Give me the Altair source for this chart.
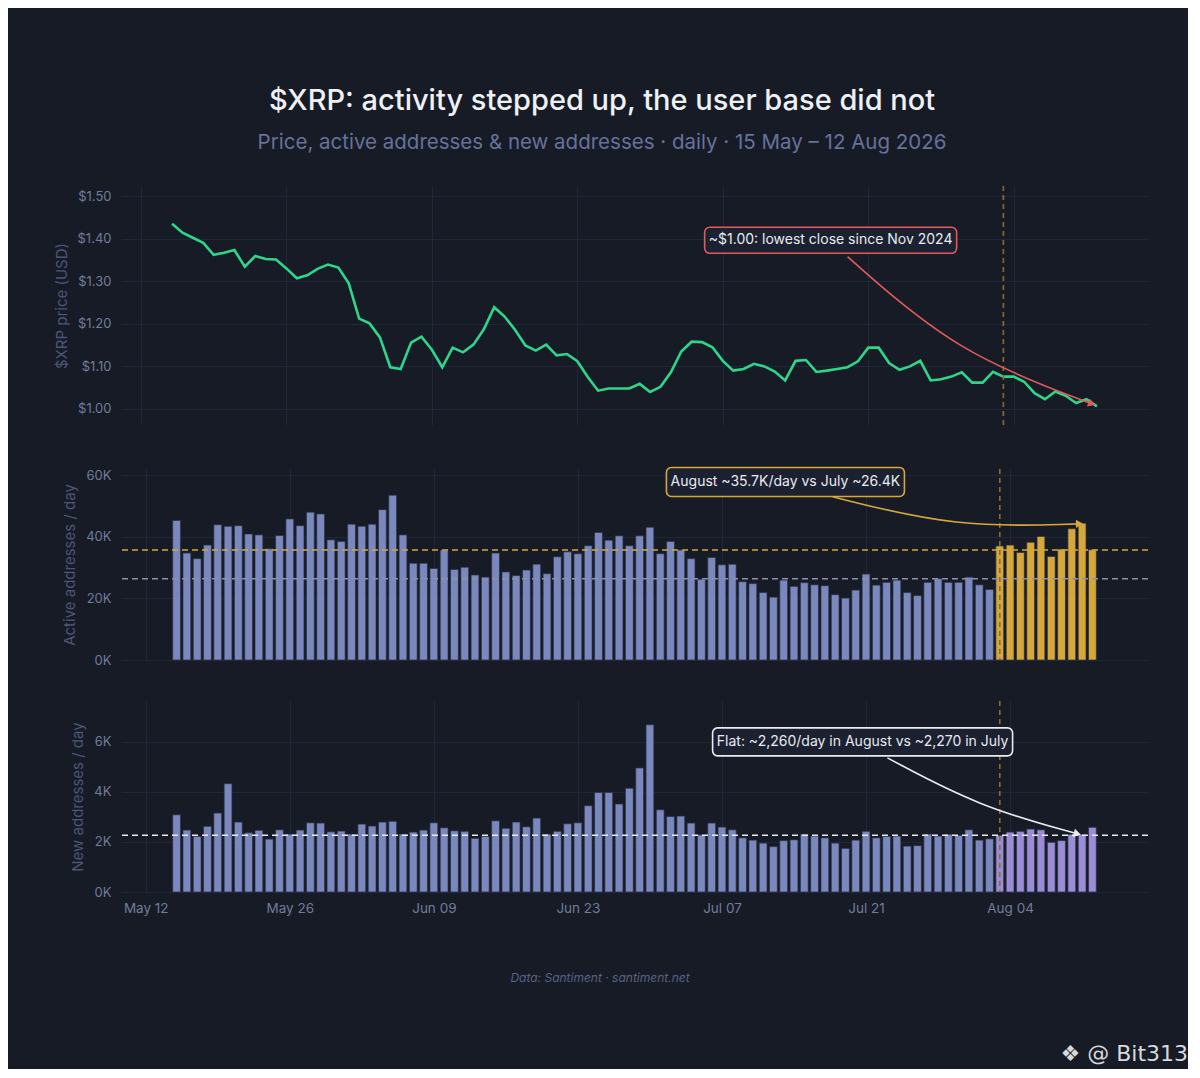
import altair as alt
import pandas as pd

# ---------------- data ----------------
START = "2026-05-15"
END = "2026-08-12"
HIGHLIGHT_FROM = "2026-08-03"

price = [1.435, 1.414, 1.402, 1.390, 1.362, 1.367, 1.373, 1.334, 1.359, 1.352,
         1.351, 1.330, 1.307, 1.314, 1.329, 1.339, 1.332, 1.295, 1.212, 1.201,
         1.168, 1.098, 1.094, 1.156, 1.170, 1.139, 1.098, 1.144, 1.133, 1.151,
         1.187, 1.239, 1.217, 1.186, 1.149, 1.137, 1.151, 1.126, 1.129, 1.112,
         1.075, 1.043, 1.048, 1.048, 1.048, 1.059, 1.040, 1.052, 1.086, 1.135,
         1.158, 1.157, 1.145, 1.113, 1.090, 1.094, 1.106, 1.100, 1.088, 1.067,
         1.113, 1.115, 1.087, 1.090, 1.094, 1.098, 1.112, 1.144, 1.144, 1.108,
         1.092, 1.100, 1.113, 1.067, 1.070, 1.076, 1.086, 1.062, 1.062, 1.087,
         1.076, 1.076, 1.064, 1.037, 1.023, 1.041, 1.031, 1.014, 1.023, 1.006]

active_k = [45.3, 34.7, 32.9, 37.3, 43.9, 43.4, 43.6, 40.9, 40.6, 36.1,
            40.4, 45.8, 43.6, 48.0, 47.4, 39.0, 38.5, 44.1, 43.4, 44.1,
            48.8, 53.5, 40.6, 31.4, 31.4, 29.7, 35.7, 29.4, 30.1, 27.6,
            26.9, 34.7, 28.6, 27.4, 29.2, 31.1, 28.0, 33.5, 35.1, 34.5,
            37.1, 41.4, 38.9, 40.3, 37.1, 40.3, 43.1, 34.5, 38.5, 35.7,
            32.9, 26.2, 33.3, 30.9, 31.1, 25.4, 24.8, 21.9, 20.4, 25.9,
            23.9, 25.1, 24.4, 24.1, 21.2, 20.1, 22.7, 27.9, 24.3, 25.2,
            25.9, 21.9, 20.9, 25.2, 26.4, 25.2, 25.2, 26.9, 24.4, 22.9,
            37.0, 37.3, 34.9, 38.2, 40.1, 33.6, 36.0, 42.6, 44.4, 35.8]

new_k = [3.08, 2.47, 2.22, 2.62, 3.15, 4.32, 2.79, 2.36, 2.46, 2.11,
         2.48, 2.31, 2.47, 2.76, 2.75, 2.40, 2.43, 2.31, 2.71, 2.63,
         2.79, 2.82, 2.31, 2.39, 2.47, 2.76, 2.56, 2.44, 2.42, 2.14,
         2.22, 2.84, 2.54, 2.79, 2.60, 2.95, 2.31, 2.42, 2.72, 2.76,
         3.44, 3.97, 3.97, 3.51, 4.14, 4.95, 6.67, 3.28, 3.01, 3.03,
         2.75, 2.28, 2.75, 2.59, 2.48, 2.16, 2.07, 1.95, 1.81, 2.05,
         2.08, 2.31, 2.23, 2.16, 1.95, 1.74, 2.07, 2.42, 2.16, 2.22,
         2.23, 1.83, 1.85, 2.31, 2.23, 2.30, 2.26, 2.48, 2.07, 2.12,
         2.26, 2.39, 2.42, 2.51, 2.48, 1.98, 2.05, 2.30, 2.30, 2.58]

ACTIVE_AUG_AVG = 35.7
ACTIVE_JUL_AVG = 26.4
NEW_AVG = 2.265

tick_days = [(5, 12), (5, 26), (6, 9), (6, 23), (7, 7), (7, 21), (8, 4)]

# annotation texts and anchors (data coordinates)
price_note = "~$1.00: lowest close since Nov 2024"
price_note_at = ("2026-07-17T09:00:00", 1.396)
price_arrow_dates = ["2026-07-19T00:00:00", "2026-07-29T10:00:00", "2026-08-11T12:00:00"]
price_arrow_vals = [1.3575, 1.1324, 1.0124]

active_note = "August ~35.7K/day vs July ~26.4K"
active_note_at = ("2026-07-13T04:00:00", 57.8)
active_arrow_dates = ["2026-07-17T18:00:00", "2026-07-29T19:00:00", "2026-08-10T18:00:00"]
active_arrow_vals = [53.0, 42.9, 44.2]

new_note = "Flat: ~2,260/day in August vs ~2,270 in July"
new_note_at = ("2026-07-20T16:00:00", 5.99)
new_arrow_dates = ["2026-07-23T02:00:00", "2026-08-01T00:00:00", "2026-08-10T13:00:00"]
new_arrow_vals = [5.35, 3.40, 2.32]

# ---------------- style ----------------
BG = "#161b26"
GRID = "#21273a"
BLUE = "#7b88bd"
GOLD = "#d6a83b"
PURPLE = "#9a8dd6"
GREEN = "#2fd68a"
RED = "#e05a5a"
WHITE = "#e9ebf0"
GRAYREF = "#8b91aa"
VLINE = "#8a6d2f"
BOXFILL = "#1b2130"
LABEL = "#727b9b"
AXTITLE = "#4d5676"
FONT = "Inter"

W = 1027
dates = pd.date_range(START, END, freq="D")
df = pd.DataFrame({
    "date": dates.strftime("%Y-%m-%dT00:00:00"),
    "price": price,
    "active": active_k,
    "new": new_k,
})
df["grp"] = ["aug" if d >= pd.Timestamp(HIGHLIGHT_FROM) else "base" for d in dates]

xscale = alt.Scale(domain=[alt.DateTime(year=2026, month=5, date=10, hours=2),
                           alt.DateTime(year=2026, month=8, date=16, hours=22)])
tick_vals = [alt.DateTime(year=2026, month=m, date=d) for m, d in tick_days]


def x_enc(show):
    if show:
        ax = alt.Axis(values=tick_vals, format="%b %d", grid=True, gridColor=GRID,
                      labelColor=LABEL, labelFontSize=13.5, labelFont=FONT,
                      labelPadding=9, ticks=False, domain=False, title=None)
    else:
        ax = alt.Axis(values=tick_vals, labels=False, grid=True, gridColor=GRID,
                      ticks=False, domain=False, title=None)
    return alt.X("date:T", scale=xscale, axis=ax)


def y_axis(values, title, fmt=None, expr=None):
    kw = dict(values=values, title=title, grid=True, gridColor=GRID, ticks=False,
              domain=False, labelColor=LABEL, labelFontSize=13, labelFont=FONT,
              labelPadding=10, titleColor=AXTITLE, titleFontSize=15,
              titleFont=FONT, titleFontWeight="normal", titlePadding=8)
    if fmt:
        kw["format"] = fmt
    if expr:
        kw["labelExpr"] = expr
    return alt.Axis(**kw)


vline_df = pd.DataFrame({"date": [HIGHLIGHT_FROM + "T00:00:00"]})


def vline():
    return alt.Chart(vline_df).mark_rule(color=VLINE, strokeDash=[5, 4],
                                         strokeWidth=1.6).encode(x="date:T")


def note(field, at, text, color, w, h, arrow_dates, arrow_vals, head_angle):
    box_df = pd.DataFrame({"date": [at[0]], field: [at[1]], "label": [text]})
    arr_df = pd.DataFrame({"date": arrow_dates, field: arrow_vals,
                           "i": list(range(len(arrow_dates)))})
    head_df = arr_df.tail(1)
    curve = alt.Chart(arr_df).mark_line(interpolate="basis", color=color,
                                        strokeWidth=1.6).encode(
        x="date:T", y=f"{field}:Q", order="i:O")
    head = alt.Chart(head_df).mark_point(shape="triangle-right", filled=True,
                                         color=color, size=70, opacity=1,
                                         angle=head_angle).encode(
        x="date:T", y=f"{field}:Q")
    box = alt.Chart(box_df).mark_rect(width=w, height=h, cornerRadius=5,
                                      fill=BOXFILL, stroke=color,
                                      strokeWidth=1.6).encode(
        x="date:T", y=f"{field}:Q")
    txt = alt.Chart(box_df).mark_text(font=FONT, fontSize=14, color=WHITE,
                                      align="center", baseline="middle").encode(
        x="date:T", y=f"{field}:Q", text="label:N")
    return [curve, head, box, txt]


# ---------------- panel 1: price ----------------
p_line = alt.Chart(df).mark_line(color=GREEN, strokeWidth=2.6).encode(
    x=x_enc(False),
    y=alt.Y("price:Q", scale=alt.Scale(domain=[0.9624, 1.5235], nice=False, zero=False),
            axis=y_axis([1.0, 1.1, 1.2, 1.3, 1.4, 1.5], "$XRP price (USD)", fmt="$.2f")),
)
panel1 = alt.layer(
    p_line, vline(),
    *note("price", price_note_at, price_note, RED, 252, 26,
          price_arrow_dates, price_arrow_vals, 20),
).properties(width=W, height=239)

# ---------------- panel 2: active ----------------
a_bars = alt.Chart(df).mark_bar(size=7.8, stroke="#2a2f42", strokeWidth=0.7).encode(
    x=x_enc(False),
    y=alt.Y("active:Q", scale=alt.Scale(domain=[0, 62], nice=False),
            axis=y_axis([0, 20, 40, 60], "Active addresses / day", expr="datum.value + 'K'")),
    color=alt.Color("grp:N", scale=alt.Scale(domain=["base", "aug"], range=[BLUE, GOLD]),
                    legend=None),
)
ref_a = pd.DataFrame({"active": [ACTIVE_AUG_AVG, ACTIVE_JUL_AVG], "kind": ["aug", "jul"]})
a_refs = alt.Chart(ref_a).mark_rule(strokeDash=[6, 4], strokeWidth=1.5).encode(
    y="active:Q",
    stroke=alt.Stroke("kind:N", scale=alt.Scale(domain=["aug", "jul"], range=[GOLD, GRAYREF]),
                      legend=None),
)
panel2 = alt.layer(
    a_bars, a_refs, vline(),
    *note("active", active_note_at, active_note, GOLD, 238, 29,
          active_arrow_dates, active_arrow_vals, 0),
).resolve_scale(color="independent").properties(width=W, height=191)

# ---------------- panel 3: new addresses ----------------
n_bars = alt.Chart(df).mark_bar(size=7.8, stroke="#2a2f42", strokeWidth=0.7).encode(
    x=x_enc(True),
    y=alt.Y("new:Q", scale=alt.Scale(domain=[0, 7.62], nice=False),
            axis=y_axis([0, 2, 4, 6], "New addresses / day", expr="datum.value + 'K'")),
    color=alt.Color("grp:N", scale=alt.Scale(domain=["base", "aug"], range=[BLUE, PURPLE]),
                    legend=None),
)
ref_n = pd.DataFrame({"new": [NEW_AVG]})
n_ref = alt.Chart(ref_n).mark_rule(strokeDash=[6, 4], strokeWidth=1.5,
                                   color=WHITE).encode(y="new:Q")
footer_df = pd.DataFrame({"t": ["Data: Santiment · santiment.net"]})
footer = alt.Chart(footer_df).mark_text(font=FONT, fontSize=12, fontStyle="italic",
                                        color="#5a6384", align="center").encode(
    x=alt.value(479), y=alt.value(277), text="t:N")
wm_df = pd.DataFrame({"t": ["❖ @ Bit313"]})
wm = alt.Chart(wm_df).mark_text(font="DejaVu Sans", fontSize=22, color="#d8d9dd",
                                align="right", baseline="middle").encode(
    x=alt.value(1067), y=alt.value(353), text="t:N")
panel3 = alt.layer(
    n_bars, n_ref, vline(),
    *note("new", new_note_at, new_note, WHITE, 300, 28,
          new_arrow_dates, new_arrow_vals, 15),
    footer, wm,
).properties(width=W, height=191)

upper = alt.vconcat(panel1, panel2, spacing=40)

chart = alt.vconcat(upper, panel3, spacing=33).properties(
    title=alt.TitleParams(
        text="$XRP: activity stepped up, the user base did not",
        subtitle="Price, active addresses & new addresses · daily · 15 May – 12 Aug 2026",
        font=FONT, fontSize=29, fontWeight=500, color="#eef0f4",
        subtitleFont=FONT, subtitleFontSize=20.5, subtitleColor="#67729a",
        subtitlePadding=17, anchor="middle", offset=32, dx=-19,
    ),
    background=BG,
    padding={"left": 46, "top": 78, "right": 0, "bottom": 4},
).configure_view(stroke=None)

chart.save("out.html", embed_options={"renderer": "svg", "actions": False})
